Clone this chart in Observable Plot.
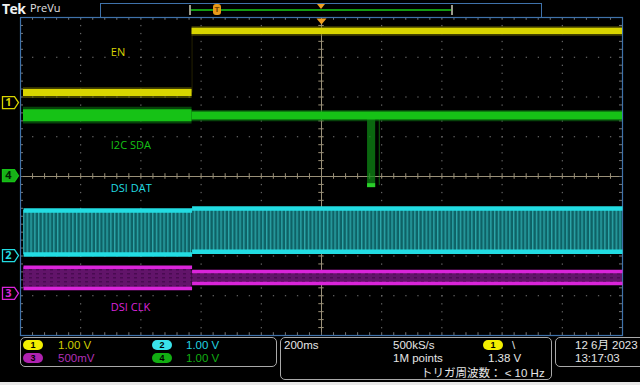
<!DOCTYPE html>
<html><head><meta charset="utf-8">
<script src="https://cdn.jsdelivr.net/npm/d3@7"></script>
<script src="https://cdn.jsdelivr.net/npm/@observablehq/plot@0.6"></script>
<style>
html,body{margin:0;padding:0;background:#000;}
#screen{position:relative;width:640px;height:385px;overflow:hidden;background:#000;font-family:"Open Sans",sans-serif;}
#chart{position:absolute;left:0;top:0;}
.a{position:absolute;white-space:nowrap;}
.t{font-family:"Liberation Sans","Noto Sans CJK JP",sans-serif;font-size:11.5px;line-height:12px;height:12px;color:#e6e6e6;}
.box{position:absolute;border:1px solid #a9a9a9;border-radius:5px;box-sizing:border-box;}
.pill{position:absolute;width:20px;height:10px;border-radius:5px;font:bold 9px/10px "Liberation Sans",sans-serif;color:#000;text-align:center;}
</style></head>
<body><div id="screen"><div id="chart"></div></div>
<script>
const segStart = [-990, -430];            // ms, before / after the EN edge
const segEnd   = [-430, 1000];
const channels = ["EN", "I2C SDA", "DSI DAT", "DSI CLK"];
const chNum    = ["1", "4", "2", "3"];
const chColor  = ["#d8d400", "#16c216", "#22dce2", "#da24da"];
const voltsPerDiv = [1.0, 1.0, 1.0, 0.5];
const offsetDiv   = [1.86, 0.02, -1.99, -2.94];
const enLevel  = [0.24, 1.79];  const enNoise  = [0.09, 0.08];
const sdaLevel = [1.51, 1.50];  const sdaNoise = [0.15, 0.10];
const datHigh  = [1.135, 1.185]; const datLow = [0.03, 0.10];
const clkHigh  = [0.33, 0.275];  const clkLow = [0.06, 0.125];
const sdaGlitch = {start: 153, end: 180, low: -0.30};
const sdaSpike  = {time: 192, low: -0.25};
const labelTime = -700;
const labelDiv  = [3.12, 0.77, -0.29, -3.29];
const majorTimes = [-800, -600, -400, -200, 0, 200, 400, 600, 800];
const majorDivs  = [-3, -2, -1, 0, 1, 2, 3];
const minorTimes = d3.range(-1000, 1001, 40);
const minorDivs  = d3.range(-4, 4.001, 0.2);
const triggerTime = 0;

// ---------- helpers ----------
const toDiv = (ch, v) => offsetDiv[ch] + v / voltsPerDiv[ch];
const segs = [0, 1];
function bandRows(ch, lo, hi) {
  return segs.flatMap(i => [
    {seg: i, t: segStart[i], y1: toDiv(ch, lo[i]), y2: toDiv(ch, hi[i])},
    {seg: i, t: segEnd[i],   y1: toDiv(ch, lo[i]), y2: toDiv(ch, hi[i])}
  ]);
}
function levelRows(ch, lv) {
  return segs.flatMap(i => [
    {seg: i, t: segStart[i], y: toDiv(ch, lv[i])},
    {seg: i, t: segEnd[i],   y: toDiv(ch, lv[i])}
  ]);
}
const enBand  = bandRows(0, segs.map(i => enLevel[i] - enNoise[i]), segs.map(i => enLevel[i] + enNoise[i]));
const enGlow  = bandRows(0, segs.map(i => enLevel[i] - enNoise[i]*1.5), segs.map(i => enLevel[i] + enNoise[i]*1.5));
const sdaBand = bandRows(1, segs.map(i => sdaLevel[i] - sdaNoise[i]), segs.map(i => sdaLevel[i] + sdaNoise[i]));
const sdaGlow = bandRows(1, segs.map(i => sdaLevel[i] - sdaNoise[i]*1.4), segs.map(i => sdaLevel[i] + sdaNoise[i]*1.4));
const datFill = bandRows(2, datLow, datHigh);
const datHi = levelRows(2, datHigh), datLo = levelRows(2, datLow);
const clkFill = bandRows(3, clkLow, clkHigh);
const clkHi = levelRows(3, clkHigh), clkLo = levelRows(3, clkLow);
const idx = [0, 1, 2, 3];

const markerSymbol = {draw(c) { c.moveTo(-8, -6); c.lineTo(4, -6); c.lineTo(8, 0); c.lineTo(4, 6); c.lineTo(-8, 6); c.closePath(); }};
const trigSymbol = {draw(c) { c.moveTo(-5, 0); c.lineTo(5, 0); c.lineTo(0, 6); c.closePath(); }};

const defsMark = () => {
  const d = d3.create("svg:defs");
  const p = d.append("pattern").attr("id", "datStripes").attr("patternUnits", "userSpaceOnUse").attr("width", 3.8).attr("height", 10);
  p.append("rect").attr("width", 3.8).attr("height", 10).attr("fill", "#0e6266");
  p.append("rect").attr("width", 1.4).attr("height", 10).attr("fill", "#40d4d6").attr("opacity", 0.6);
  const q = d.append("pattern").attr("id", "clkTex").attr("patternUnits", "userSpaceOnUse").attr("width", 7).attr("height", 4);
  q.append("rect").attr("width", 7).attr("height", 4).attr("fill", "#62146a");
  q.append("rect").attr("x", 1).attr("y", 1).attr("width", 3).attr("height", 1.5).attr("fill", "#4a0a52");
  return d.node();
};

const chart = Plot.plot({
  width: 640, height: 385,
  marginTop: 17, marginBottom: 50, marginLeft: 20, marginRight: 18,
  x: {domain: [-1000, 1000], axis: null},
  y: {domain: [-4, 4], axis: null},
  color: {type: "identity"},
  style: {background: "transparent", fontFamily: "'Open Sans', sans-serif"},
  marks: [
    defsMark,
    // graticule
    Plot.ruleX(majorTimes, {stroke: "#7a7a7a", strokeDasharray: "1.3 6.65", strokeWidth: 1}),
    Plot.ruleY(majorDivs, {stroke: "#7a7a7a", strokeDasharray: "1.3 10.74", strokeWidth: 1}),
    Plot.ruleX([0], {stroke: "#9a9078", strokeWidth: 1}),
    Plot.ruleY([0], {stroke: "#9a9078", strokeWidth: 1}),
    Plot.ruleX(minorTimes, {x: d => d, y1: -0.07, y2: 0.07, stroke: "#9a9078"}),
    Plot.ruleY(minorDivs, {y: d => d, x1: -9, x2: 9, stroke: "#9a9078"}),
    Plot.ruleX(minorTimes, {x: d => d, y1: 4, y2: 3.93, stroke: "#777"}),
    Plot.ruleX(minorTimes, {x: d => d, y1: -4, y2: -3.93, stroke: "#777"}),
    Plot.ruleY(minorDivs, {y: d => d, x1: -1000, x2: -990, stroke: "#777"}),
    Plot.ruleY(minorDivs, {y: d => d, x1: 1000, x2: 990, stroke: "#777"}),
    Plot.frame({stroke: "#3f72aa", strokeWidth: 1.2}),
    // EN (ch1)
    Plot.ruleX([segStart[1]], {y1: toDiv(0, enLevel[0]), y2: toDiv(0, enLevel[1]), stroke: "#5a5200", strokeOpacity: 0.4}),
    Plot.areaY(enGlow, {x: "t", y1: "y1", y2: "y2", z: "seg", fill: "#7a7600", fillOpacity: 0.55}),
    Plot.areaY(enBand, {x: "t", y1: "y1", y2: "y2", z: "seg", fill: chColor[0]}),
    // I2C SDA (ch4)
    Plot.rectY([sdaGlitch], {x1: "start", x2: "end", y1: d => toDiv(1, d.low), y2: toDiv(1, sdaLevel[1]), fill: "#0d8a14", fillOpacity: 0.75}),
    Plot.rectY([sdaGlitch], {x1: "start", x2: "end", y1: d => toDiv(1, d.low), y2: d => toDiv(1, d.low + 0.1), fill: "#2ad02a"}),
    Plot.ruleX([sdaSpike], {x: "time", y1: d => toDiv(1, d.low), y2: toDiv(1, sdaLevel[1]), stroke: "#15a015", strokeOpacity: 0.6}),
    Plot.areaY(sdaGlow, {x: "t", y1: "y1", y2: "y2", z: "seg", fill: "#0a7010", fillOpacity: 0.6}),
    Plot.areaY(sdaBand, {x: "t", y1: "y1", y2: "y2", z: "seg", fill: chColor[1]}),
    // DSI DAT (ch2)
    Plot.areaY(datFill, {x: "t", y1: "y1", y2: "y2", z: "seg", fill: "url(#datStripes)"}),
    Plot.line(datHi, {x: "t", y: "y", z: "seg", stroke: chColor[2], strokeWidth: 4.5, strokeLinecap: "butt"}),
    Plot.line(datLo, {x: "t", y: "y", z: "seg", stroke: chColor[2], strokeWidth: 4.5, strokeLinecap: "butt"}),
    // DSI CLK (ch3)
    Plot.areaY(clkFill, {x: "t", y1: "y1", y2: "y2", z: "seg", fill: "url(#clkTex)"}),
    Plot.line(clkHi, {x: "t", y: "y", z: "seg", stroke: chColor[3], strokeWidth: 3.5, strokeLinecap: "butt"}),
    Plot.line(clkLo, {x: "t", y: "y", z: "seg", stroke: chColor[3], strokeWidth: 3.5, strokeLinecap: "butt"}),
    // labels
    Plot.text(idx, {x: () => labelTime, y: i => labelDiv[i], text: i => channels[i], fill: i => chColor[i], textAnchor: "start", fontSize: 11}),
    // channel markers
    Plot.dot(idx, {y: i => offsetDiv[i], frameAnchor: "left", dx: -10, symbol: markerSymbol,
      stroke: i => chColor[i], fill: i => chNum[i] === "4" ? "#18b018" : "#000", strokeWidth: 1.3}),
    Plot.text(idx, {y: i => offsetDiv[i], frameAnchor: "left", dx: -12, textAnchor: "middle", text: i => chNum[i],
      fill: i => chNum[i] === "4" ? "#002000" : chColor[i], fontSize: 11, fontWeight: "bold"}),
    // trigger position
    Plot.dot([triggerTime], {x: d => d, frameAnchor: "top", dy: 1, symbol: trigSymbol, fill: "#f0a020", stroke: "none"})
  ]
});
document.getElementById("chart").appendChild(chart);

// ---------- instrument readouts ----------
const screen = document.getElementById("screen");
function add(html) { screen.insertAdjacentHTML("beforeend", html); }
add(`<div class="a" style="left:2px;top:1px;font:bold 14px/15px 'Open Sans',sans-serif;color:#f2f2f2;letter-spacing:-0.6px">Tek</div>`);
add(`<div class="a" style="left:30px;top:2px;font:11px/12px 'Open Sans',sans-serif;color:#e0e0e0">PreVu</div>`);
add(`<div class="a" style="left:100px;top:3px;width:442px;height:14px;border:1.2px solid #3f72aa;border-bottom:none;box-sizing:border-box"></div>`);
add(`<div class="a" style="left:190px;top:9px;width:262px;height:2px;background:#129a12"></div>`);
add(`<div class="a" style="left:189px;top:5px;width:2px;height:10px;background:#9a9a8a"></div>`);
add(`<div class="a" style="left:451px;top:5px;width:2px;height:10px;background:#9a9a8a"></div>`);
add(`<div class="a" style="left:213px;top:4px;width:8px;height:11px;border-radius:3px;background:#e89a18;font:bold 8px/11px sans-serif;color:#6a3c00;text-align:center">T</div>`);
add(`<div class="a" style="left:317px;top:4px;width:0;height:0;border-left:4px solid transparent;border-right:4px solid transparent;border-top:5px solid #f0a020"></div>`);

add(`<div class="box" style="left:20px;top:337px;width:257px;height:30px"></div>`);
add(`<div class="box" style="left:280px;top:337px;width:272px;height:43px"></div>`);
add(`<div class="box" style="left:555px;top:337px;width:100px;height:30px"></div>`);
add(`<div class="pill" style="left:23px;top:340px;background:#f2ee00">1</div>`);
add(`<div class="a t" style="left:58px;top:339px;color:#d2ce00">1.00 V</div>`);
add(`<div class="pill" style="left:152px;top:340px;background:#3ae2ea">2</div>`);
add(`<div class="a t" style="left:186px;top:339px;color:#22d4e0">1.00 V</div>`);
add(`<div class="pill" style="left:23px;top:353px;background:#b022b0">3</div>`);
add(`<div class="a t" style="left:58px;top:352px;color:#b030b6">500mV</div>`);
add(`<div class="pill" style="left:152px;top:353px;background:#12ae12">4</div>`);
add(`<div class="a t" style="left:186px;top:352px;color:#12ae12">1.00 V</div>`);
add(`<div class="a t" style="left:284px;top:339px">200ms</div>`);
add(`<div class="a t" style="left:393px;top:339px">500kS/s</div>`);
add(`<div class="a t" style="left:393px;top:352px">1M points</div>`);
add(`<div class="pill" style="left:483px;top:340px;background:#f2ee00">1</div>`);
add(`<div class="a t" style="left:512px;top:339px">\\</div>`);
add(`<div class="a t" style="left:488px;top:352px">1.38 V</div>`);
add(`<div class="a t" style="left:421px;top:367px">トリガ周波数： &lt; 10 Hz</div>`);
add(`<div class="a t" style="left:575px;top:339px">12 6月 2023</div>`);
add(`<div class="a t" style="left:575px;top:352px">13:17:03</div>`);
add(`<div class="a" style="left:0;top:382px;width:640px;height:3px;background:#e8e8e8"></div>`);
</script>
</body></html>
